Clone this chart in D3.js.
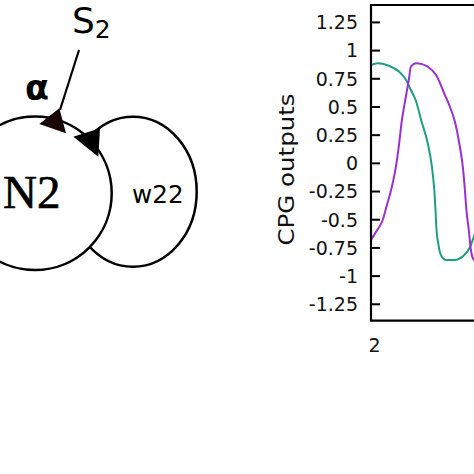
<!DOCTYPE html>
<html><head><meta charset="utf-8">
<script src="https://cdn.jsdelivr.net/npm/d3@7"></script>
<style>body{margin:0;background:#fff}svg{display:block}</style>
</head><body>
<script>
// ---- data ----
const tealT = [2.000,2.022,2.057,2.094,2.117,2.133,2.150,2.167,2.189,2.203,2.211,2.215,2.218,2.225,2.233,2.250,2.278,2.311,2.328,2.339,2.350,2.363];
const tealV = [0.868,0.883,0.863,0.808,0.735,0.646,0.549,0.380,0.176,-0.034,-0.241,-0.418,-0.578,-0.729,-0.817,-0.862,-0.862,-0.817,-0.758,-0.685,-0.596,-0.436];
const purpleT = [2.000,2.017,2.039,2.053,2.067,2.083,2.094,2.103,2.113,2.126,2.133,2.150,2.167,2.189,2.217,2.244,2.267,2.280,2.294,2.306,2.313,2.318,2.326,2.333,2.341,2.353,2.380];
const purpleV = [-0.684,-0.611,-0.507,-0.374,-0.241,-0.034,0.176,0.380,0.540,0.735,0.853,0.883,0.878,0.853,0.779,0.617,0.469,0.362,0.176,-0.034,-0.241,-0.418,-0.596,-0.773,-0.853,-0.879,-0.879];
const yTicks = [-1.25,-1,-0.75,-0.5,-0.25,0,0.25,0.5,0.75,1,1.25];
const yTickLabels = ["-1.25","-1","-0.75","-0.5","-0.25","0","0.25","0.5","0.75","1","1.25"];
const xTicks = [2];
const xTickLabels = ["2"];
const yLabel = "CPG outputs";

(function(){
const W = 474, H = 474;
const svg = d3.select("body").append("svg").attr("width", W).attr("height", H);
svg.append("rect").attr("width", W).attr("height", H).attr("fill", "#fff");

// ---- diagram ----
const dg = svg.append("g");
dg.append("ellipse").attr("cx",133).attr("cy",191.7).attr("rx",63.7).attr("ry",75)
  .attr("fill","#fff").attr("stroke","#000").attr("stroke-width",2.5);
dg.append("circle").attr("cx",35).attr("cy",193.3).attr("r",76.7)
  .attr("fill","#fff").attr("stroke","#000").attr("stroke-width",2.5);
dg.append("line").attr("x1",79).attr("y1",50).attr("x2",60).attr("y2",110)
  .attr("stroke","#000").attr("stroke-width",2.2);
dg.append("polygon").attr("points","59.3,108.3 39.3,124 66,133.3").attr("fill","#1a0505");
dg.append("polygon").attr("points","100,128.3 73.3,136.7 98.3,156.7").attr("fill","#000");
dg.append("text").attr("x",72).attr("y",33.3).attr("font-family","DejaVu Sans").attr("font-size",36).text("S")
  .append("tspan").attr("font-size",25).attr("dy",5).text("2");
dg.append("text").attr("x",25).attr("y",100).attr("font-family","DejaVu Sans").attr("font-weight","bold").attr("font-size",35).text("α");
dg.append("text").attr("x",3).attr("y",208.3).attr("font-family","Liberation Serif").attr("font-size",47)
  .attr("stroke","#000").attr("stroke-width",0.6).text("N2");
dg.append("text").attr("x",132).attr("y",203.3).attr("font-family","DejaVu Sans").attr("font-size",24.7).text("w22");

// ---- plot ----
const pLeft = 371, pTop = 5, pBottom = 320.7;
const x = d3.scaleLinear().domain([2, 4]).range([pLeft, pLeft + 600]);
const y = d3.scaleLinear().domain([-1.4, 1.4]).range([pBottom, pTop]);

svg.append("clipPath").attr("id","clip").append("rect")
  .attr("x",pLeft).attr("y",pTop).attr("width",W).attr("height",pBottom-pTop);

const line = d3.line().curve(d3.curveMonotoneX).x(d=>x(d[0])).y(d=>y(d[1]));
const pg = svg.append("g").attr("clip-path","url(#clip)");
pg.append("path").datum(tealT.map((t,i)=>[t,tealV[i]])).attr("d",line)
  .attr("fill","none").attr("stroke","#1f9e82").attr("stroke-width",2);
pg.append("path").datum(purpleT.map((t,i)=>[t,purpleV[i]])).attr("d",line)
  .attr("fill","none").attr("stroke","#9a2fd3").attr("stroke-width",2);

// y axis with inward ticks
const yAxis = d3.axisLeft(y).tickValues(yTicks).tickSizeInner(-9).tickSizeOuter(0)
  .tickFormat((d,i)=>yTickLabels[i]);
const ya = svg.append("g").attr("transform",`translate(${pLeft},0)`).call(yAxis);
ya.select(".domain").remove();
ya.selectAll(".tick line").attr("stroke","#000").attr("stroke-width",2);
ya.selectAll(".tick text").attr("x",-13).attr("dy","0.36em")
  .attr("font-family","DejaVu Sans").attr("font-size",19).attr("fill","#111");

// x axis labels
const xAxis = d3.axisBottom(x).tickValues(xTicks).tickSize(0).tickFormat((d,i)=>xTickLabels[i]);
const xa = svg.append("g").attr("transform",`translate(0,${pBottom})`).call(xAxis);
xa.select(".domain").remove();
xa.selectAll(".tick text").attr("x",3).attr("y",31).attr("dy",0).attr("font-family","DejaVu Sans").attr("font-size",19).attr("fill","#111");

// frame
svg.append("path").attr("d",`M${W},${pTop}H${pLeft}V${pBottom}H${W}`)
  .attr("fill","none").attr("stroke","#000").attr("stroke-width",2.2);

// y label
svg.append("text").attr("transform","translate(294,169.5) rotate(-90)")
  .attr("text-anchor","middle").attr("font-family","DejaVu Sans").attr("font-size",21.5)
  .attr("textLength",152).attr("lengthAdjust","spacingAndGlyphs").attr("fill","#111").text(yLabel);
})();
</script>
</body></html>
